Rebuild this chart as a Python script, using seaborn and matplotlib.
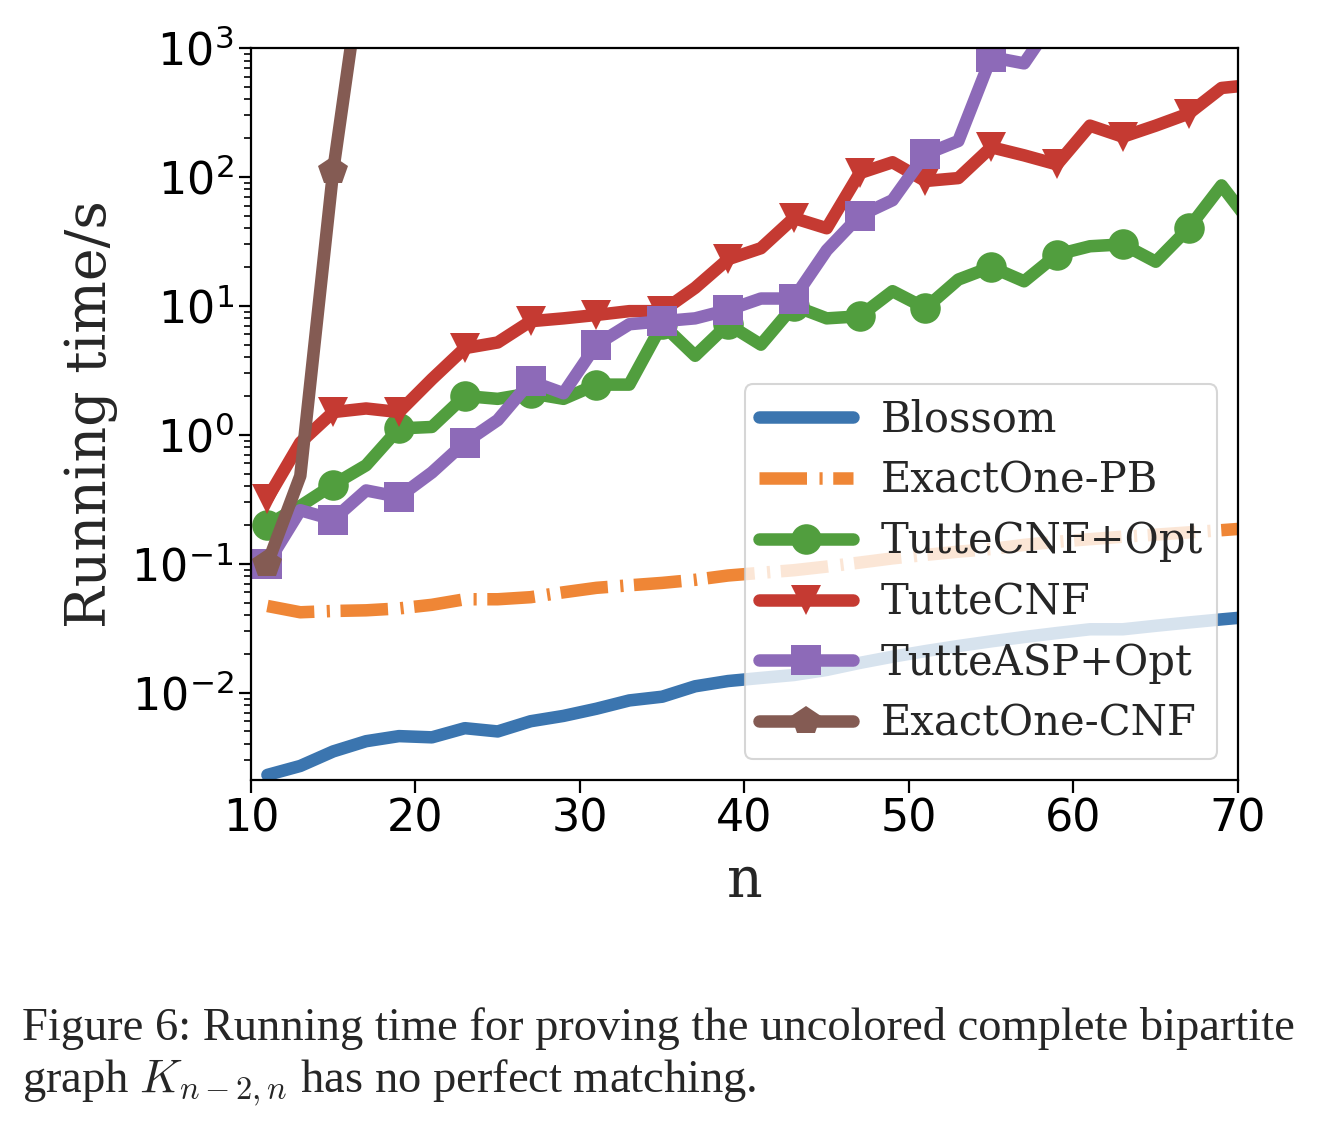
import numpy as np
import pandas as pd
import seaborn as sns
from matplotlib import pyplot as plt

# problem size n (odd values), times in seconds
n_all = list(range(11, 73, 2))

blossom = [0.0023, 0.0027, 0.0035, 0.0042, 0.0046, 0.0045, 0.0053, 0.0050,
           0.0060, 0.0066, 0.0075, 0.0087, 0.0093, 0.0112, 0.0123, 0.0130,
           0.0137, 0.015, 0.017, 0.019, 0.021, 0.023, 0.025, 0.027, 0.029,
           0.031, 0.031, 0.033, 0.035, 0.037, 0.039]
exactone_pb = [0.047, 0.042, 0.043, 0.0435, 0.045, 0.048, 0.053, 0.053,
               0.055, 0.060, 0.065, 0.068, 0.071, 0.075, 0.081, 0.085,
               0.089, 0.095, 0.102, 0.11, 0.117, 0.124, 0.13, 0.14, 0.148,
               0.155, 0.162, 0.168, 0.175, 0.182, 0.19]
tutte_cnf_opt = [0.20, 0.28, 0.41, 0.58, 1.12, 1.15, 2.0, 1.9, 2.1, 1.9,
                 2.45, 2.45, 7.2, 4.1, 7.2, 5.0, 10.0, 8.0, 8.3, 13.0, 9.6,
                 16.0, 20.0, 15.5, 25.0, 29.0, 30.0, 22.0, 40.0, 86.0, 40.0]
tutte_cnf = [0.32, 0.87, 1.5, 1.6, 1.5, 2.7, 4.7, 5.2, 7.6, 8.0, 8.5, 9.1,
             9.1, 13.8, 23.0, 28.0, 48.0, 40.0, 107.0, 130.0, 93.0, 98.0,
             170.0, 147.0, 125.0, 250.0, 205.0, 250.0, 310.0, 490.0, 520.0]
n_asp = list(range(11, 61, 2))
tutte_asp_opt = [0.10, 0.26, 0.22, 0.37, 0.33, 0.51, 0.87, 1.3, 2.6, 2.1,
                 5.0, 7.2, 7.6, 8.0, 9.3, 11.4, 11.4, 27.0, 50.0, 66.0,
                 150.0, 190.0, 850.0, 760.0, 1800.0]
n_cnf = [11, 13, 15, 17]
exactone_cnf = [0.10, 0.48, 112.0, 7000.0]

labels = ["Blossom", "ExactOne-PB", "TutteCNF+Opt", "TutteCNF",
          "TutteASP+Opt", "ExactOne-CNF"]
colors = ["#3b75af", "#ef8636", "#519e3e", "#c53a32", "#8d6ab8", "#845b53"]

series = [
    (n_all, blossom, None),
    (n_all, exactone_pb, None),
    (n_all, tutte_cnf_opt, "o"),
    (n_all, tutte_cnf, "v"),
    (n_asp, tutte_asp_opt, "s"),
    (n_cnf, exactone_cnf, "p"),
]

sns.set_style("ticks")
plt.rcParams["font.family"] = ["DejaVu Sans"]

fig = plt.figure(figsize=(13.18, 11.22), dpi=100)
ax = fig.add_axes([0.1904, 0.3048, 0.7489, 0.6524])

for (xs, ys, mk), lab, col in zip(series, labels, colors):
    df = pd.DataFrame({"n": xs, "t": ys})
    kw = dict(marker=mk, markersize=22, markevery=2) if mk else {}
    if lab == "ExactOne-PB":
        kw["linestyle"] = (0, (3.8, 1.0, 0.25, 0.85))
    sns.lineplot(data=df, x="n", y="t", ax=ax, color=col, linewidth=9,
                 label=lab, errorbar=None, markeredgewidth=0, **kw)

ax.set_yscale("log")
ax.set_xlim(10, 70)
ax.set_ylim(2.1e-3, 1e3)
ax.set_xticks([10, 20, 30, 40, 50, 60, 70])

for sp in ax.spines.values():
    sp.set_visible(True)
    sp.set_color("black")
    sp.set_linewidth(1.6)
ax.tick_params(axis="both", which="major", labelsize=32, length=9,
               width=1.6, color="black", labelcolor="black")
ax.tick_params(axis="y", which="minor", length=5, width=1.2, color="black")
ax.tick_params(axis="x", which="minor", length=0)

ax.set_xlabel("n", fontsize=40, family="DejaVu Serif", labelpad=10)
ax.set_ylabel("Running time/s", fontsize=40, family="DejaVu Serif",
              labelpad=10)

leg = ax.legend(loc="lower right", handlelength=2.25,
                framealpha=0.8, borderpad=0.35, labelspacing=0.45,
                handletextpad=0.65, borderaxespad=0.5,
                prop={"family": "DejaVu Serif", "size": 30})
leg.get_frame().set_edgecolor("#cccccc")
leg.get_frame().set_linewidth(1.5)

fig.text(0.017, 0.073, "Figure 6: Running time for proving the uncolored "
         "complete bipartite", fontsize=33.5, family="Liberation Serif",
         ha="left", va="baseline")
fig.text(0.017, 0.027, r"graph $K_{n-2,n}$ has no perfect matching.",
         fontsize=33.5, family="Liberation Serif", math_fontfamily="cm",
         ha="left", va="baseline")

fig.savefig("out.png", dpi=100)
